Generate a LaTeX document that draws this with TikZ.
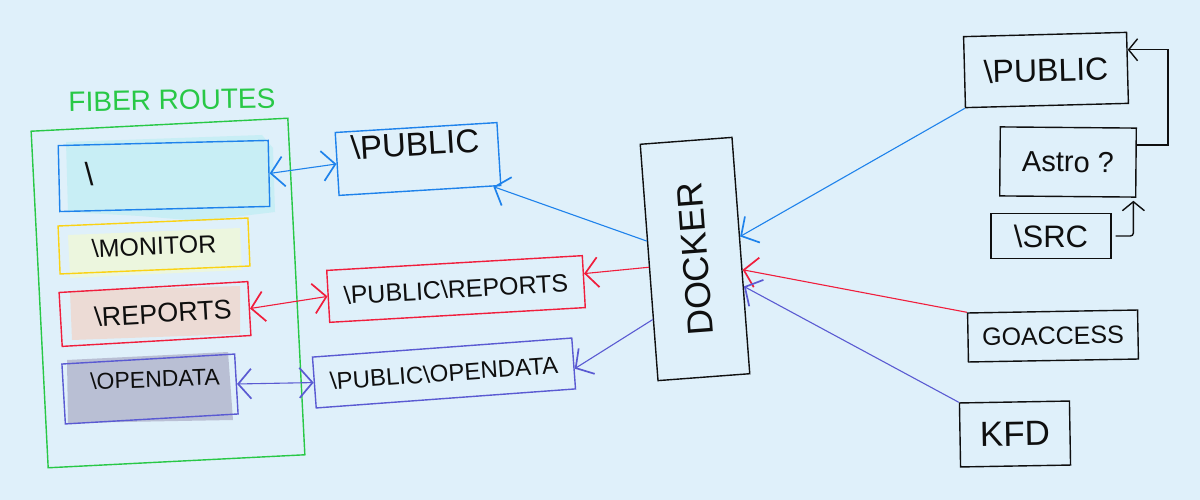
\documentclass[tikz,border=0pt]{standalone}
\usepackage{fontspec}
\setmainfont{Liberation Sans}
\usetikzlibrary{arrows.meta,calc}
\definecolor{bg}{RGB}{223,240,250}
\definecolor{cblue}{RGB}{30,130,235}
\definecolor{cred}{RGB}{240,30,60}
\definecolor{cpur}{RGB}{90,90,210}
\definecolor{cgreen}{RGB}{40,200,70}
\definecolor{cyel}{RGB}{250,210,20}
\definecolor{fcyan}{RGB}{200,238,245}
\definecolor{fyel}{RGB}{236,246,222}
\definecolor{fred}{RGB}{236,219,213}
\definecolor{fpur}{RGB}{185,191,212}
\definecolor{ink}{RGB}{15,15,15}
\begin{document}
\begin{tikzpicture}[x=1pt,y=-1pt,
  box/.style={draw=ink,line width=1.4pt,inner sep=0pt,text=ink},
  txt/.style={text=ink,inner sep=0pt,font=\fontsize{#1}{#1}\selectfont},
  conn/.style={line width=1.1pt},
  barb/.tip={Straight Barb[length=13pt,width=30pt,line width=1.7pt]},
  tip/.style={-barb},
  dtip/.style={barb-barb},
  btip/.style={-{Straight Barb[length=9pt,width=22pt,line width=1.4pt]}}
]
\fill[bg] (0,0) rectangle (1200,500);
\useasboundingbox (0,0) rectangle (1200,500);

% fills
\fill[fcyan] (66,142) -- (262,135) -- (273,148) -- (275,212) -- (200,221) -- (140,216) -- (68,212) -- cycle;
\fill[fyel] (68,235) -- (240,228) -- (242,270) -- (70,278) -- cycle;
\fill[fred] (70,291) -- (240,286) -- (240,334) -- (72,340) -- cycle;
\fill[fpur] (67,360) -- (228,352) -- (233,420) -- (68,423) -- cycle;

% left frame
\node[text=cgreen,inner sep=0pt,font=\fontsize{28}{28}\selectfont,rotate=1] (title) at (172,100) {FIBER ROUTES};
\node[draw=cgreen,line width=1.4pt,rotate=2.9,minimum width=257pt,minimum height=337pt] (frame) at (168,293) {};

\node[box,draw=cblue,rotate=1.4,minimum width=210pt,minimum height=66pt] (lroot) at (164,176) {};
\node[txt=32] (lroott) at (89,174) {\textbackslash};
\node[box,draw=cyel,rotate=2.4,minimum width=190pt,minimum height=48pt,font=\fontsize{25}{25}\selectfont] (lmon) at (154,246) {\textbackslash MONITOR};
\node[box,draw=cred,rotate=3.3,minimum width=189pt,minimum height=54pt] (lrep) at (155,314) {};
\node[txt=27,rotate=3.3] (lrept) at (163,313) {\textbackslash REPORTS};
\node[box,draw=cpur,rotate=3.3,minimum width=173pt,minimum height=60pt] (lopen) at (150,389) {};
\node[txt=23,rotate=2] (lopent) at (155,379) {\textbackslash OPENDATA};

% middle
\node[box,draw=cblue,rotate=3.5,minimum width=162pt,minimum height=63pt] (mpub) at (418,159) {};
\node[txt=33,rotate=3.5] (mpubt) at (415,144) {\textbackslash PUBLIC};
\node[box,draw=cred,rotate=3.3,minimum width=256pt,minimum height=52pt,font=\fontsize{25}{25}\selectfont] (mrep) at (456,289) {\textbackslash PUBLIC\textbackslash REPORTS};
\node[box,draw=cpur,rotate=4.2,minimum width=260pt,minimum height=51pt,font=\fontsize{24}{24}\selectfont] (mopen) at (444,373) {\textbackslash PUBLIC\textbackslash OPENDATA};

% docker
\node[box,rotate=94.3,minimum width=237pt,minimum height=92pt,font=\fontsize{36}{36}\selectfont] (docker) at (695,259) {DOCKER};

% right
\node[box,rotate=1.5,minimum width=163pt,minimum height=71pt,font=\fontsize{32}{32}\selectfont] (rpub) at (1046,70) {\textbackslash PUBLIC};
\node[box,rotate=-0.5,minimum width=136pt,minimum height=69pt,font=\fontsize{29}{29}\selectfont] (astro) at (1068,162) {Astro ?};
\node[box,minimum width=120pt,minimum height=45pt,font=\fontsize{31}{31}\selectfont] (src) at (1051,236) {\textbackslash SRC};
\node[box,rotate=1,minimum width=170pt,minimum height=49pt,font=\fontsize{25}{25}\selectfont] (goaccess) at (1053,336) {GOACCESS};
\node[box,rotate=1,minimum width=110pt,minimum height=64pt,font=\fontsize{35}{35}\selectfont] (kfd) at (1015,434) {KFD};

% connectors left-middle
\draw[conn,cblue,dtip] (lroot.east) -- (mpub.west);
\draw[conn,cred,dtip] (lrep.east) -- (mrep.west);
\draw[conn,cpur,dtip] (lopen.east) -- (mopen.west);

% docker to middle
\draw[conn,cblue,tip] ($(docker.north east)!0.41!(docker.north west)$) -- ($(mpub.south east)!0.05!(mpub.south west)$);
\draw[conn,cred,tip] ($(docker.north east)!0.52!(docker.north west)$) -- ($(mrep.north east)!0.35!(mrep.south east)$);
\draw[conn,cpur,tip] ($(docker.north east)!0.74!(docker.north west)$) -- ($(mopen.north east)!0.6!(mopen.south east)$);

% right to docker
\draw[conn,cblue,tip] (rpub.south west) -- ($(docker.south east)!0.42!(docker.south west)$);
\draw[conn,cred,tip] (goaccess.north west) -- ($(docker.south east)!0.56!(docker.south west)$);
\draw[conn,cpur,tip] (kfd.north west) -- ($(docker.south east)!0.63!(docker.south west)$);

% black arrows
\draw[line width=1.4pt,ink,btip] ($(astro.north east)!0.25!(astro.south east)$) -- ++(31,0) |- ($(rpub.north east)!0.25!(rpub.south east)$);
\draw[line width=1.4pt,ink,rounded corners=3pt,btip] ($(src.east)+(4,0)$) -| ($(astro.south east)+(-3,3)$);
\end{tikzpicture}
\end{document}
